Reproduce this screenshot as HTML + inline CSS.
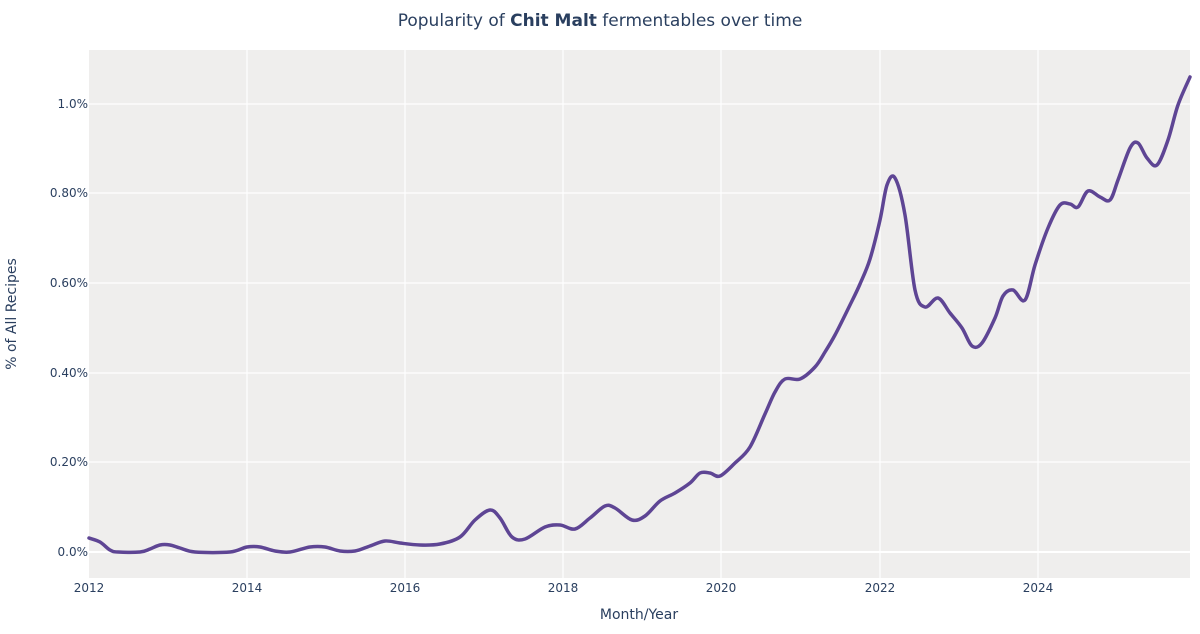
<!DOCTYPE html>
<html><head><meta charset="utf-8"><style>
body{margin:0;background:#fff;font-family:"DejaVu Sans",sans-serif}
</style></head><body>
<svg width="1200" height="630" xmlns="http://www.w3.org/2000/svg" font-family="DejaVu Sans, sans-serif">
<rect width="1200" height="630" fill="#fff"/>
<rect x="89" y="50" width="1101" height="528" fill="#efeeed"/>
<g stroke="#fff" stroke-width="1.2">
<line x1="247" y1="50" x2="247" y2="578"/><line x1="405" y1="50" x2="405" y2="578"/>
<line x1="563" y1="50" x2="563" y2="578"/><line x1="721" y1="50" x2="721" y2="578"/>
<line x1="880" y1="50" x2="880" y2="578"/><line x1="1038" y1="50" x2="1038" y2="578"/>
<line x1="89" y1="462" x2="1190" y2="462"/><line x1="89" y1="373" x2="1190" y2="373"/>
<line x1="89" y1="283" x2="1190" y2="283"/><line x1="89" y1="193" x2="1190" y2="193"/>
<line x1="89" y1="104" x2="1190" y2="104"/>
<line x1="89" y1="552" x2="1190" y2="552" stroke-width="2"/>
</g>
<g font-size="12" fill="#2a3f5f" text-anchor="end">
<text x="88" y="556">0.0%</text><text x="88" y="466">0.20%</text><text x="88" y="377">0.40%</text>
<text x="88" y="287">0.60%</text><text x="88" y="197">0.80%</text><text x="88" y="108">1.0%</text>
</g>
<g font-size="12" fill="#2a3f5f" text-anchor="middle">
<text x="89" y="592">2012</text><text x="247" y="592">2014</text><text x="405" y="592">2016</text>
<text x="563" y="592">2018</text><text x="721" y="592">2020</text><text x="880" y="592">2022</text><text x="1038" y="592">2024</text>
</g>
<text x="639" y="619" font-size="14" fill="#2a3f5f" text-anchor="middle">Month/Year</text>
<text transform="translate(16,314) rotate(-90)" font-size="14" fill="#2a3f5f" text-anchor="middle">% of All Recipes</text>
<text x="600" y="26" font-size="17" fill="#2a3f5f" text-anchor="middle">Popularity of <tspan font-weight="bold">Chit Malt</tspan> fermentables over time</text>
<path id="ln" fill="none" stroke="#5e4594" stroke-width="3.5" stroke-linejoin="round" stroke-linecap="round" d=""/>
</svg>
<script>
var s="89,538 100,542 110,550 118,552 140,552 150,549 160,545 170,545 180,548 195,552 230,552 247,547 260,547 275,551 290,552 310,547 325,547 340,551 355,551 370,546 385,541 400,543 420,545 440,544 460,537 475,520 490,510 500,518 512,537 525,539 545,527 560,525 575,529 590,518 605,506 615,508 632,520 645,516 660,501 675,493 690,483 700,473 710,473 720,476 735,463 750,447 765,414 775,392 785,379 800,379 815,367 825,352 835,335 850,305 860,284 870,259 880,220 887,185 895,178 905,215 915,290 925,307 938,298 950,313 962,328 972,346 982,343 995,318 1003,296 1013,290 1025,300 1035,265 1048,228 1060,205 1070,204 1078,207 1088,191 1100,197 1110,200 1118,180 1130,148 1138,143 1147,158 1157,165 1168,140 1178,105 1190,77";
var p=s.split(" ").map(function(a){return a.split(",").map(Number)});
var d="M"+p[0][0]+","+p[0][1];
for(var i=0;i<p.length-1;i++){
var p0=p[i-1]||p[i],p1=p[i],p2=p[i+1],p3=p[i+2]||p2;
var c1x=p1[0]+(p2[0]-p0[0])/6,c1y=p1[1]+(p2[1]-p0[1])/6;
var c2x=p2[0]-(p3[0]-p1[0])/6,c2y=p2[1]-(p3[1]-p1[1])/6;
d+=" C"+c1x.toFixed(1)+","+c1y.toFixed(1)+" "+c2x.toFixed(1)+","+c2y.toFixed(1)+" "+p2[0]+","+p2[1];
}
document.getElementById("ln").setAttribute("d",d);
</script>
</body></html>
